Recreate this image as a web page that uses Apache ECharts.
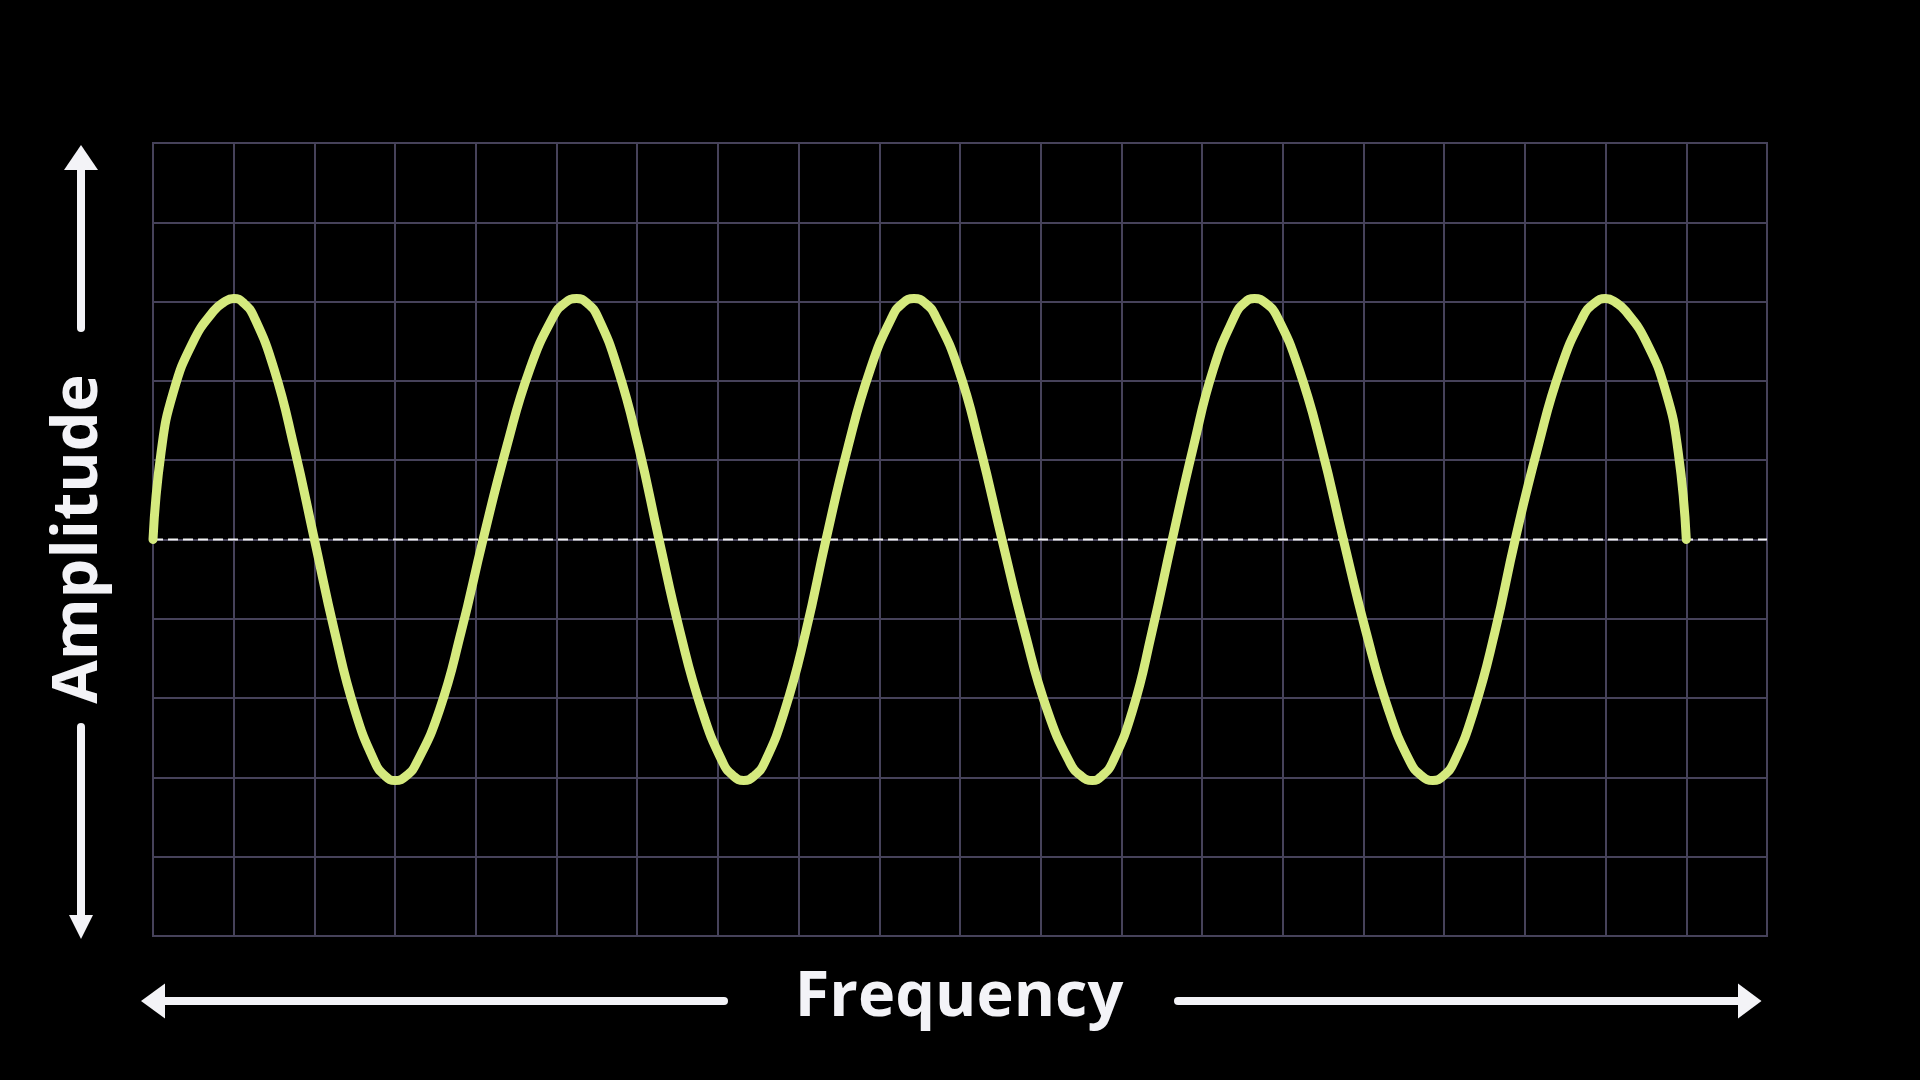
<!DOCTYPE html>
<html>
<head>
<meta charset="utf-8">
<script src="https://cdn.jsdelivr.net/npm/echarts@6/dist/echarts.min.js"></script>
<style>
html,body{margin:0;padding:0;background:#000;}
#chart{width:1920px;height:1080px;}
</style>
</head>
<body>
<div id="chart"></div>
<script>
// Wave readings: x in grid columns (0..20), y in grid rows from the centre line (-5..5)
var waveX = [0, 0.1, 0.25, 0.5, 0.75, 0.875, 1.0,
  1.125, 1.25, 1.5, 1.75, 2.0, 2.25, 2.5, 2.75, 2.875, 3.0,
  3.14, 3.27, 3.55, 3.82, 4.09, 4.38, 4.67, 4.96, 5.10, 5.25,
  5.38, 5.51, 5.76, 6.02, 6.27, 6.53, 6.80, 7.06, 7.19, 7.32,
  7.45, 7.58, 7.83, 8.09, 8.34, 8.61, 8.89, 9.16, 9.29, 9.43,
  9.57, 9.70, 9.98, 10.25, 10.52, 10.80, 11.08, 11.36, 11.50, 11.64,
  11.76, 11.89, 12.14, 12.38, 12.63, 12.89, 13.14, 13.40, 13.52, 13.65,
  13.79, 13.93, 14.20, 14.48, 14.75, 15.03, 15.31, 15.58, 15.72, 15.86,
  15.99, 16.12, 16.37, 16.63, 16.88, 17.16, 17.44, 17.72, 17.86, 18.0,
  18.125, 18.25, 18.5, 18.75, 18.9, 19.0];
var waveY = [0, 1.1, 1.85, 2.5, 2.88, 2.99, 3.04,
  2.98, 2.81, 2.15, 1.16, 0, -1.16, -2.15, -2.81, -2.98, -3.04,
  -2.98, -2.81, -2.15, -1.16, 0, 1.16, 2.15, 2.81, 2.98, 3.04,
  2.98, 2.81, 2.15, 1.16, 0, -1.16, -2.15, -2.81, -2.98, -3.04,
  -2.98, -2.81, -2.15, -1.16, 0, 1.16, 2.15, 2.81, 2.98, 3.04,
  2.98, 2.81, 2.15, 1.16, 0, -1.16, -2.15, -2.81, -2.98, -3.04,
  -2.98, -2.81, -2.15, -1.16, 0, 1.16, 2.15, 2.81, 2.98, 3.04,
  2.98, 2.81, 2.15, 1.16, 0, -1.16, -2.15, -2.81, -2.98, -3.04,
  -2.98, -2.81, -2.15, -1.16, 0, 1.16, 2.15, 2.81, 2.98, 3.04,
  2.99, 2.88, 2.5, 1.85, 1.1, 0];
var baselineX = [0, 20];
var baselineY = [0, 0];
var xRange = [0, 20];
var yRange = [-5, 5];
var xTitle = 'Frequency';
var yTitle = 'Amplitude';

var chart = echarts.init(document.getElementById('chart'), null, {renderer: 'canvas'});
var gridColor = '#46425a';
var textColor = '#f3f3f7';
var font = '"Open Sans", "Noto Sans", sans-serif';

function pairs(xs, ys) { return xs.map(function (x, i) { return [x, ys[i]]; }); }

var option = {
  backgroundColor: '#000000',
  animation: false,
  grid: {left: 153, right: 153, top: 143, bottom: 144, show: true, borderColor: gridColor, borderWidth: 2, backgroundColor: 'transparent'},
  xAxis: {
    type: 'value', min: xRange[0], max: xRange[1], interval: 1,
    axisLine: {show: false}, axisTick: {show: false}, axisLabel: {show: false},
    splitLine: {show: true, lineStyle: {color: gridColor, width: 2}}
  },
  yAxis: {
    type: 'value', min: yRange[0], max: yRange[1], interval: 1,
    axisLine: {show: false}, axisTick: {show: false}, axisLabel: {show: false},
    splitLine: {show: true, lineStyle: {color: gridColor, width: 2}}
  },
  series: [
    {
      type: 'line', data: pairs(baselineX, baselineY), showSymbol: false, silent: true, z: 2,
      lineStyle: {color: '#f2f2f2', width: 2, type: [10, 5]}
    },
    {
      type: 'line', data: pairs(waveX, waveY), showSymbol: false, smooth: 0.5, silent: true, z: 3,
      lineStyle: {color: '#d5ea7e', width: 9, cap: 'round', join: 'round'}
    }
  ],
  graphic: [
    // vertical arrow (up)
    {type: 'line', shape: {x1: 81, y1: 168, x2: 81, y2: 328}, style: {stroke: textColor, lineWidth: 8, lineCap: 'round'}},
    {type: 'polygon', shape: {points: [[81, 145], [64, 170], [98, 170]]}, style: {fill: textColor}},
    // vertical arrow (down)
    {type: 'line', shape: {x1: 81, y1: 727, x2: 81, y2: 917}, style: {stroke: textColor, lineWidth: 8, lineCap: 'round'}},
    {type: 'polygon', shape: {points: [[81, 939], [69, 915], [93, 915]]}, style: {fill: textColor}},
    // horizontal arrow (left)
    {type: 'line', shape: {x1: 163, y1: 1001, x2: 724, y2: 1001}, style: {stroke: textColor, lineWidth: 8, lineCap: 'round'}},
    {type: 'polygon', shape: {points: [[141, 1001], [165, 983.5], [165, 1018.5]]}, style: {fill: textColor}},
    // horizontal arrow (right)
    {type: 'line', shape: {x1: 1178, y1: 1001, x2: 1740, y2: 1001}, style: {stroke: textColor, lineWidth: 8, lineCap: 'round'}},
    {type: 'polygon', shape: {points: [[1761.5, 1001], [1738, 983.5], [1738, 1018.5]]}, style: {fill: textColor}},
    // titles
    {type: 'text', x: 959, y: 998, style: {text: xTitle, fill: textColor, font: 'bold 63px ' + font, textAlign: 'center', textVerticalAlign: 'middle'}},
    {type: 'text', x: 79, y: 539, rotation: Math.PI / 2, style: {text: yTitle, fill: textColor, font: 'bold 63px ' + font, textAlign: 'center', textVerticalAlign: 'middle'}}
  ]
};
chart.setOption(option);
</script>
</body>
</html>
